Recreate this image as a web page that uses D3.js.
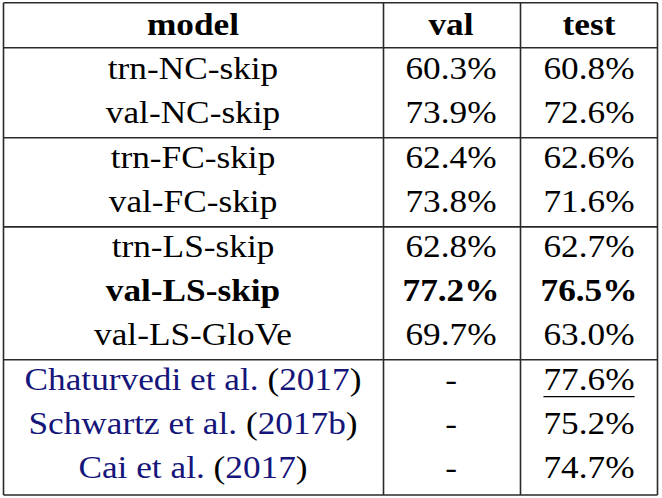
<!DOCTYPE html>
<html><head><meta charset="utf-8">
<script src="https://cdn.jsdelivr.net/npm/d3@7"></script>
<style>html,body{margin:0;padding:0;background:#fff;}</style>
</head><body>
<svg id="c" width="662" height="498"></svg>
<script>
const headers = ["model", "val", "test"];
const models = ["trn-NC-skip","val-NC-skip","trn-FC-skip","val-FC-skip","trn-LS-skip","val-LS-skip","val-LS-GloVe","Chaturvedi et al. (2017)","Schwartz et al. (2017b)","Cai et al. (2017)"];
const valScores = ["60.3%","73.9%","62.4%","73.8%","62.8%","77.2%","69.7%","-","-","-"];
const testScores = ["60.8%","72.6%","62.6%","71.6%","62.7%","76.5%","63.0%","77.6%","75.2%","74.7%"];
const groups = [0,0,1,1,2,2,2,3,3,3];
const boldRows = [5];
const citedRows = [7,8,9];
const underlinedTest = [7];

(function(){
const svg = d3.select("#c");
const colEdges = [3.5, 383.5, 520.5, 657.5];
const x = d3.scaleOrdinal().domain(headers).range([193, 451, 589]);
const rowY = d3.scaleLinear().domain([0, 1]).range([79, 122.8]);
const baseY = i => rowY(i) + groups[i] * 1.5;
const font = "'Liberation Serif','Times New Roman',serif";
const FS = 31.5, SX = 1.12;
const lineColor = "#2a2a2a";
const linkColor = "#15157a";

const frameTop = 2.7, headerLine = 47.7, frameBottom = 495;
const hLines = [frameTop, headerLine];
for (let i = 1; i < models.length; i++) if (groups[i] !== groups[i-1]) hLines.push(baseY(i-1) + 15);
hLines.push(frameBottom);
svg.selectAll("line.h").data(hLines).join("line").attr("class","h")
  .attr("x1", colEdges[0]).attr("x2", colEdges[3]).attr("y1", d=>d).attr("y2", d=>d)
  .attr("stroke", lineColor).attr("stroke-width", 1.6);
svg.selectAll("line.v").data(colEdges).join("line").attr("class","v")
  .attr("x1", d=>d).attr("x2", d=>d).attr("y1", frameTop).attr("y2", frameBottom)
  .attr("stroke", lineColor).attr("stroke-width", 1.6);

function cell(cx, cy, bold) {
  const g = svg.append("g").attr("transform", `translate(${cx},${cy}) scale(${SX},1)`);
  const t = g.append("text").attr("x", 0).attr("y", 0).attr("text-anchor","middle")
    .attr("font-family", font).attr("font-size", FS)
    .attr("font-weight", bold ? "bold" : "normal").attr("fill","#000");
  return {g, t};
}

headers.forEach(h => { cell(x(h), 35, true).t.text(h); });

models.forEach((m, i) => {
  const bold = boldRows.includes(i);
  const c = cell(x("model"), baseY(i), bold);
  if (citedRows.includes(i)) {
    const mt = m.match(/^(.*)\((.*)\)$/);
    c.t.append("tspan").attr("fill", linkColor).text(mt[1]);
    c.t.append("tspan").attr("fill", "#000").text("(");
    c.t.append("tspan").attr("fill", linkColor).text(mt[2]);
    c.t.append("tspan").attr("fill", "#000").text(")");
  } else c.t.text(m);
  cell(x("val"), baseY(i), bold).t.text(valScores[i]);
  const tc = cell(x("test"), baseY(i), bold);
  tc.t.text(testScores[i]);
  if (underlinedTest.includes(i)) {
    const bb = tc.t.node().getBBox();
    tc.g.append("line").attr("x1", bb.x).attr("x2", bb.x + bb.width)
      .attr("y1", 6.5).attr("y2", 6.5).attr("stroke", "#000").attr("stroke-width", 1.3);
  }
});
})();
</script>
</body></html>
